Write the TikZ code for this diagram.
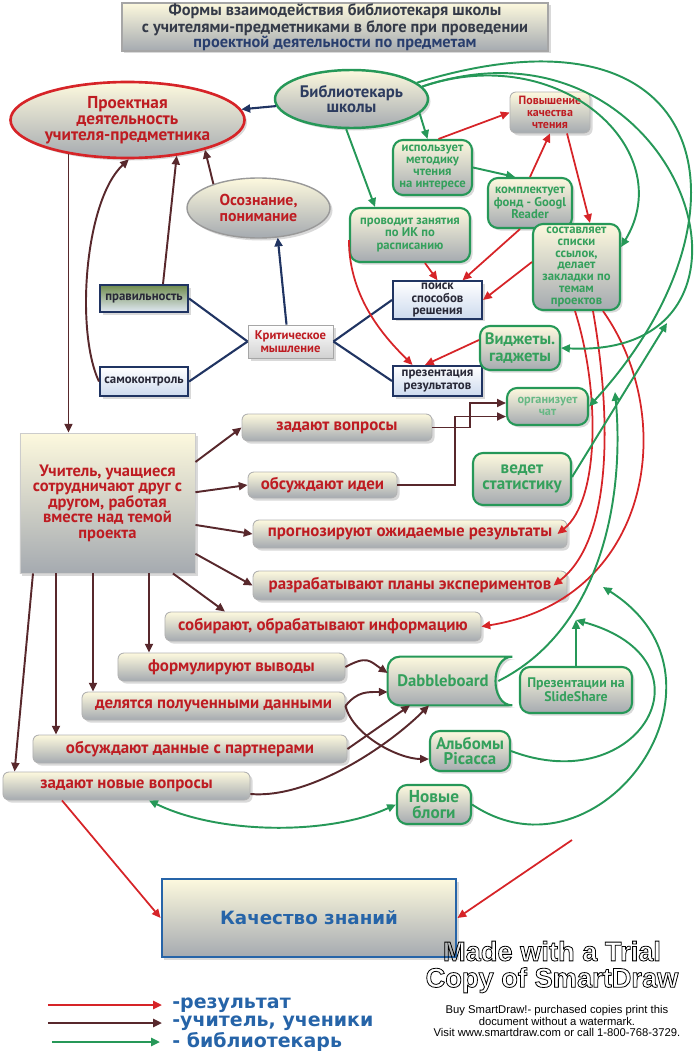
\documentclass[tikz,border=0pt]{standalone}
\usepackage{fontspec}
\setmainfont{PT Sans}
\newfontfamily\wmfont{Liberation Sans}
\newfontfamily\lgfont{DejaVu Sans}
\usetikzlibrary{arrows.meta,shapes.geometric,shadows,calc,backgrounds}
\definecolor{cred}{RGB}{214,36,40}
\definecolor{cbrn}{RGB}{88,40,44}
\definecolor{cgrn}{RGB}{38,152,88}
\definecolor{cnav}{RGB}{32,52,98}
\definecolor{cblu}{RGB}{38,100,168}
\definecolor{ctred}{RGB}{190,28,34}
\definecolor{cgtxt}{RGB}{52,160,92}
\definecolor{cnavtxt}{RGB}{45,60,95}
\definecolor{cfillt}{RGB}{253,249,222}
\definecolor{cfillb}{RGB}{165,170,176}
\definecolor{cbl}{RGB}{205,218,238}
\definecolor{colive}{RGB}{112,140,78}
\definecolor{ctitle}{RGB}{52,58,72}
\definecolor{ctitleb}{RGB}{40,62,110}
\definecolor{cdark}{RGB}{40,40,55}
\newcommand\wmoutline[1]{\special{pdf:literal direct 1 Tr 0.45 w}#1\special{pdf:literal direct 0 Tr}}
\begin{document}
\begin{tikzpicture}[
  x=0.2mm, y=-0.2mm,
  shd/.style={drop shadow={shadow xshift=0.5mm, shadow yshift=-0.5mm, opacity=0.3}},
  gbox/.style={shd, draw=cgrn, line width=1.2pt, rounded corners=2mm, top color=cfillt, bottom color=cfillb, text=cgtxt, align=center, inner sep=1pt, font=\bfseries\fontsize{7.2}{7}\selectfont},
  tbox/.style={shd, draw=black!30, line width=0.5pt, rounded corners=1.2mm, top color=cfillt, bottom color=cfillb, text=ctred, align=center, inner sep=1pt, font=\bfseries\fontsize{9.6}{9.6}\selectfont},
  bbox/.style={shd, draw=cnav, line width=1.2pt, top color=white, bottom color=cbl, text=cdark, align=center, inner sep=1pt, font=\bfseries\fontsize{7.3}{7}\selectfont},
  oval/.style={shd, ellipse, top color=cfillt, bottom color=cfillb, align=center, inner sep=0pt, font=\bfseries\fontsize{9.5}{9}\selectfont},
  lgtext/.style={text=cblu, inner sep=0pt, font=\lgfont\bfseries\fontsize{10.8}{10.8}\selectfont},
  resarr/.style={draw=cred, line width=1pt, -{Triangle[length=5pt,width=4.5pt]}},
  tcharr/.style={draw=cbrn, line width=1.1pt, -{Triangle[length=5pt,width=4.5pt]}},
  libarr/.style={draw=cgrn, line width=1.1pt, -{Triangle[length=5pt,width=4.5pt]}},
  navarr/.style={draw=cnav, line width=1.2pt, -{Triangle[length=5pt,width=4.5pt]}},
  navln/.style={draw=cnav, line width=1.2pt}
]
\useasboundingbox (0,0) rectangle (695,1055);
\node[shd, draw=black!35, line width=0.6pt, top color=cfillt, bottom color=cfillb, text=ctitle, align=center, minimum width=85.2mm, minimum height=9.6mm, inner sep=0pt, font=\bfseries\fontsize{9.3}{8.6}\selectfont] (title) at (335,27) {Формы взаимодействия библиотекаря школы\\с учителями-предметниками в блоге при проведении\\\textcolor{ctitleb}{проектной деятельности по предметам}};
\node[oval, draw=cred, line width=1.5pt, text=ctred, font=\bfseries\fontsize{9.8}{9.2}\selectfont, minimum width=46.2mm, minimum height=15.2mm] (projekt) at (127.5,120) {Проектная\\деятельность\\учителя-предметника};
\node[oval, draw=cgrn, line width=1.4pt, text=cnavtxt, minimum width=30.6mm, minimum height=11.6mm] (bibl) at (351.5,99) {Библиотекарь\\школы};
\node[oval, draw=black!40, line width=0.8pt, text=ctred, font=\bfseries\fontsize{9}{9.5}\selectfont, minimum width=28.6mm, minimum height=12mm] (osozn) at (258.5,208) {Осознание,\\понимание};
\node[tbox, font=\bfseries\fontsize{6.8}{6.8}\selectfont, minimum width=16mm, minimum height=8.2mm] (povysh) at (550,112.5) {Повышение\\качества\\чтения};
\node[gbox, minimum width=15.8mm, minimum height=11mm] (ispolz) at (432.5,167.5) {использует\\методику\\чтения\\на интересе};
\node[gbox, minimum width=16.8mm, minimum height=10mm] (komplekt) at (530,203) {комплектует\\фонд - Googl\\Reader};
\node[gbox, minimum width=24mm, minimum height=10.8mm] (provod) at (410,235) {проводит занятия\\по ИК по\\расписанию};
\node[gbox, font=\bfseries\fontsize{7.2}{6.7}\selectfont, minimum width=17.4mm, minimum height=17.2mm] (sostavl) at (576.5,267) {составляет\\списки\\ссылок,\\делает\\закладки по\\темам\\проектов};
\node[bbox, minimum width=17.8mm, minimum height=7.2mm] (poisk) at (437.5,300) {поиск\\способов\\решения};
\node[bbox, top color=colive, bottom color=cbl!60, minimum width=17.6mm, minimum height=5.4mm] (pravil) at (144,298.5) {правильность};
\node[tbox, rounded corners=0pt, draw=black!35, top color=white, bottom color=black!18, font=\bfseries\fontsize{7.2}{7.5}\selectfont, minimum width=17mm, minimum height=6.6mm] (krit) at (290.5,341.5) {Критическое\\мышление};
\node[bbox, minimum width=17.6mm, minimum height=5.8mm] (samok) at (144,381.5) {самоконтроль};
\node[bbox, minimum width=17.8mm, minimum height=6mm] (prez) at (437.5,381) {презентация\\результатов};
\node[gbox, font=\bfseries\fontsize{9.4}{9.5}\selectfont, minimum width=16mm, minimum height=8.8mm] (vidzh) at (520,348) {Виджеты.\\гаджеты};
\node[gbox, text=cgtxt!75, font=\bfseries\fontsize{7}{7}\selectfont, minimum width=16.2mm, minimum height=7.4mm] (chat) at (547.5,406.5) {организует\\чат};
\node[gbox, font=\bfseries\fontsize{9.7}{9.5}\selectfont, minimum width=19.6mm, minimum height=10.4mm] (vedet) at (522,479) {ведет\\статистику};
\node[tbox, rounded corners=0pt, draw=black!20, font=\bfseries\fontsize{9.4}{8.8}\selectfont, minimum width=35mm, minimum height=28mm] (uchit) at (107.5,503) {Учитель, учащиеся\\сотрудничают друг с\\другом, работая\\вместе над темой\\проекта};
\node[tbox, minimum width=38mm, minimum height=5.4mm] (zadvopr) at (337,427.5) {задают вопросы};
\node[tbox, minimum width=29.8mm, minimum height=5.2mm] (obsid) at (322.5,485) {обсуждают идеи};
\node[tbox, minimum width=62.8mm, minimum height=5.6mm] (prognoz) at (410,534) {прогнозируют ожидаемые результаты};
\node[tbox, minimum width=62.8mm, minimum height=5.8mm] (razrab) at (410,585.5) {разрабатывают планы экспериментов};
\node[tbox, minimum width=63.2mm, minimum height=5.8mm] (sobir) at (323,626.5) {собирают, обрабатывают информацию};
\node[tbox, minimum width=45.4mm, minimum height=5.6mm] (formul) at (231.5,667) {формулируют выводы};
\node[tbox, minimum width=52.6mm, minimum height=5.6mm] (delyat) at (213.5,706) {делятся полученными данными};
\node[tbox, minimum width=62.8mm, minimum height=5.6mm] (obsdan) at (190,749) {обсуждают данные с партнерами};
\node[tbox, minimum width=49.4mm, minimum height=5.6mm] (novvopr) at (126.5,786) {задают новые вопросы};
\node[minimum width=24.8mm, minimum height=9.6mm, inner sep=0pt, text=cgtxt, font=\bfseries\fontsize{9.5}{9.5}\selectfont] (dabble) at (450,681) {Dabbleboard\hspace*{2.8mm}};
\node[gbox, font=\bfseries\fontsize{7.9}{8}\selectfont, minimum width=22.4mm, minimum height=9.2mm] (slide) at (576,690) {Презентации на\\SlideShare};
\node[gbox, font=\bfseries\fontsize{9.6}{9}\selectfont, minimum width=16mm, minimum height=8mm] (alb) at (470,751) {Альбомы\\Picacca};
\node[gbox, font=\bfseries\fontsize{9.8}{9.2}\selectfont, minimum width=14.8mm, minimum height=7.8mm] (blog) at (434,804.5) {Новые\\блоги};
\node[shd, draw=cblu, line width=1.6pt, top color=cfillt, bottom color=cfillb, text=cblu, font=\lgfont\bfseries\fontsize{10.4}{10.4}\selectfont, minimum width=58.8mm, minimum height=15.6mm] (kach) at (309,918) {Качество знаний};
\begin{scope}[on background layer]
\draw[shd, draw=cgrn, line width=1.2pt, top color=cfillt, bottom color=cfillb] (dabble.north east) [rounded corners=2.4mm] -- (dabble.north west) -- (dabble.south west) [sharp corners] -- (dabble.south east) .. controls ([xshift=-4.5mm]dabble.south east) and ([xshift=-4.5mm]dabble.north east) .. cycle;
\end{scope}
\draw[navarr] (bibl) -- (projekt);
\draw[navarr] ([xshift=-0.8mm]krit.north) -- (osozn.-57);
\draw[navln] (pravil.east) -- (krit.west);
\draw[navln] (samok.east) -- (krit.west);
\draw[navln] (krit.east) -- (poisk.west);
\draw[navln] (krit.east) -- (prez.west);
\draw[tcharr] (projekt.-150) -- (projekt.-150 |- uchit.north);
\draw[tcharr] ([xshift=3.8mm]pravil.north) -- (projekt.-36);
\draw[tcharr] (samok.west) .. controls (75,330) and (85,200) .. (projekt.-88);
\draw[tcharr] (osozn.152) -- (projekt.-21);
\draw[tcharr] (uchit.25) -- (zadvopr.west);
\draw[tcharr] (uchit.7) -- (obsid.west);
\draw[tcharr] (uchit.-14) -- (prognoz.west);
\draw[tcharr] (uchit.-30) -- (razrab.west);
\draw[tcharr] ([xshift=-4.5mm]uchit.south east) -- ([xshift=-19.6mm]sobir.north);
\draw[tcharr] ([xshift=8.3mm]uchit.south) -- ([xshift=8.3mm]uchit.south |- formul.north);
\draw[tcharr] ([xshift=-2.9mm]uchit.south) -- ([xshift=-2.9mm]uchit.south |- delyat.north);
\draw[tcharr] ([xshift=-10.3mm]uchit.south) -- ([xshift=-10.3mm]uchit.south |- obsdan.north);
\draw[tcharr] ([xshift=-14.9mm]uchit.south) -- ([xshift=2.4mm]novvopr.north west);
\draw[tcharr] (zadvopr.east) -- ++(38,0) |- ([yshift=0.7mm]chat.west);
\draw[tcharr] (obsid.east) -- ++(58,0) |- ([yshift=-2mm]chat.west);
\draw[tcharr] (formul.east) .. controls +(22,-12) and +(-18,-12) .. ([yshift=1.6mm]dabble.west);
\draw[tcharr] (delyat.east) .. controls +(12,-15) and +(-20,0) .. ([yshift=-2.2mm]dabble.west);
\draw[tcharr] (delyat.east) .. controls +(8,30) and +(-30,0) .. ([yshift=-1.6mm]alb.west);
\draw[tcharr] (obsdan.east) -- ([xshift=-8mm]dabble.south);
\draw[tcharr] ([yshift=-1.6mm]novvopr.east) .. controls +(60,5) and +(-40,40) .. ([xshift=-4.2mm]dabble.south);
\draw[resarr] ([xshift=1.2mm]ispolz.north) -- (povysh.west);
\draw[resarr] (komplekt.north) -- (povysh.south);
\draw[resarr] ([xshift=3.4mm]povysh.south) -- ([xshift=2.7mm]sostavl.north);
\draw[resarr] ([xshift=3mm]provod.south) -- (poisk.north);
\draw[resarr] ([xshift=-2mm]komplekt.south) -- ([xshift=5mm]poisk.north);
\draw[resarr] ([yshift=1mm]sostavl.west) -- (poisk.east);
\draw[resarr] ([yshift=-1mm]provod.west) .. controls +(0,60) and +(-25,-25) .. ([xshift=-5mm]prez.north);
\draw[resarr] ([yshift=1.6mm]vidzh.west) -- ([xshift=-2.5mm]prez.north);
\draw[resarr] ([xshift=-0.3mm]sostavl.south) .. controls (600,390) and (600,500) .. ([xshift=-2mm]prognoz.east);
\draw[resarr] ([xshift=3.3mm]sostavl.south) .. controls (612,420) and (612,540) .. ([xshift=-2.8mm]razrab.east);
\draw[resarr] ([xshift=5.3mm]sostavl.south) .. controls (680,420) and (650,600) .. (sobir.east);
\draw[resarr] ([xshift=-12.9mm]novvopr.south) -- (kach.west);
\coordinate (kachsrc) at (572,840);
\draw[resarr] (kachsrc) -- (kach.east);
\draw[libarr] (bibl.-12) -- ([xshift=-1mm]ispolz.north);
\draw[libarr] (bibl.-100) -- ([xshift=-7mm]provod.north);
\draw[libarr] (ispolz.east) -- ([xshift=-3mm]komplekt.north);
\draw[libarr] (bibl.10) .. controls (560,40) and (680,150) .. ([yshift=4mm]sostavl.east);
\draw[libarr] (bibl.10) .. controls (680,0) and (800,360) .. (vidzh.east);
\draw[libarr] (bibl.14) .. controls (720,-10) and (760,220) .. (chat.east);
\coordinate (vedtip) at (667,323);
\draw[libarr] ([yshift=0.4mm]vedet.east) -- (vedtip);
\coordinate (dabtip) at (615,392);
\draw[libarr] ([xshift=-2.8mm]dabble.east) .. controls (600,630) and (625,500) .. (dabtip);
\coordinate (slidetip) at (576,620);
\draw[libarr] (slide.north) -- (slidetip);
\draw[libarr] (alb.east) .. controls (640,800) and (720,660) .. (slidetip);
\coordinate (blogtip) at (603,587);
\draw[libarr] (blog.east) .. controls (600,890) and (750,680) .. (blogtip);
\draw[libarr, {Triangle[length=5pt,width=4.5pt]}-{Triangle[length=5pt,width=4.5pt]}] (blog.west) .. controls (330,835) and (220,835) .. ([xshift=4.5mm]novvopr.south);
\node[lgtext, anchor=west] (lgres) at (172,1005) {-результат};
\node[lgtext, anchor=west] (lgtch) at (172,1023) {-учитель, ученики};
\node[lgtext, anchor=west] (lglib) at (172,1042) {- библиотекарь};
\draw[resarr, line width=1.4pt] ([xshift=-24.8mm]lgres.west) -- ([xshift=-2mm]lgres.west);
\draw[tcharr, line width=1.4pt] ([xshift=-24.8mm]lgtch.west) -- ([xshift=-2mm]lgtch.west);
\draw[libarr, line width=1.4pt] ([xshift=-24mm]lglib.west) -- ([xshift=-2.4mm]lglib.west);
\node[align=center, inner sep=0pt, font=\wmfont\bfseries\fontsize{15.5}{15}\selectfont] (wmark) at (552,967) {\wmoutline{Made with a Trial\\Copy of SmartDraw}};
\node[align=center, inner sep=0pt, font=\wmfont\fontsize{6.4}{6.7}\selectfont] (wmnote) at (557,1021) {Buy SmartDraw!- purchased copies print this\\document without a watermark.\\Visit www.smartdraw.com or call 1-800-768-3729.};
\end{tikzpicture}
\end{document}
